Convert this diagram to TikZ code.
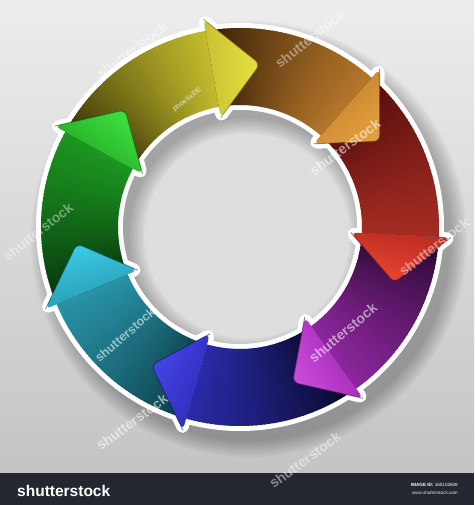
\documentclass[tikz,border=0pt]{standalone}
\usepackage{fontspec}
\setmainfont{Liberation Sans}
\definecolor{bgtop}{HTML}{EDEDED}
\definecolor{bgbot}{HTML}{C4C4C4}
\definecolor{barcol}{HTML}{24272F}
\definecolor{holecol}{HTML}{DDDDDD}
% yellow
\definecolor{s0}{HTML}{2A2404}\definecolor{e0}{HTML}{C2BA2C}\definecolor{ha0}{HTML}{C8C030}\definecolor{hb0}{HTML}{E8E242}
% brown
\definecolor{s1}{HTML}{281402}\definecolor{e1}{HTML}{B4762A}\definecolor{ha1}{HTML}{C07C2C}\definecolor{hb1}{HTML}{E29E3C}
% red
\definecolor{s2}{HTML}{480808}\definecolor{e2}{HTML}{A42C22}\definecolor{ha2}{HTML}{B82C20}\definecolor{hb2}{HTML}{EE4634}
% purple
\definecolor{s3}{HTML}{1A0420}\definecolor{e3}{HTML}{8C269C}\definecolor{ha3}{HTML}{9A24AE}\definecolor{hb3}{HTML}{CA4ADA}
% blue
\definecolor{s4}{HTML}{030314}\definecolor{e4}{HTML}{2A2AA8}\definecolor{ha4}{HTML}{2A2AB8}\definecolor{hb4}{HTML}{4646E6}
% cyan
\definecolor{s5}{HTML}{08303A}\definecolor{e5}{HTML}{2892A6}\definecolor{ha5}{HTML}{2696AE}\definecolor{hb5}{HTML}{3CCCE6}
% green
\definecolor{s6}{HTML}{04280A}\definecolor{e6}{HTML}{1C9620}\definecolor{ha6}{HTML}{1EA222}\definecolor{hb6}{HTML}{3EDE3E}
\tikzset{
  wm/.style={text=white, opacity=0.55, font=\bfseries\fontsize{14}{14}\selectfont, inner sep=0pt},
  wmsmall/.style={wm, font=\bfseries\fontsize{7}{7}\selectfont},
  headwhite/.style={fill=white, draw=white, line width=10pt, line join=round, rounded corners=4pt},
}
\begin{document}
\begin{tikzpicture}[x=1pt,y=1pt]
\useasboundingbox (0,0) rectangle (474,505);
% background
\shade[top color=bgtop, bottom color=bgbot] (0,32) rectangle (474,505);
\fill[barcol] (0,0) rectangle (474,32);
\node[anchor=west, text=white, font=\bfseries\fontsize{15.5}{15.5}\selectfont, inner sep=0pt] (logo) at (17,14) {shutterstock};
\node[anchor=east, text=white, font=\fontsize{4.6}{5}\selectfont, inner sep=0pt] (imgid) at (458,20) {\textbf{IMAGE ID:} 165102608};
\node[anchor=east, text=white!80!gray, font=\fontsize{4.6}{5}\selectfont, inner sep=0pt] (url) at (458,12) {www.shutterstock.com};

\begin{scope}[shift={(240,278)}]
  % drop shadow
  \foreach \k in {0,...,8} {
    \fill[black, opacity=0.03] (9,-12) circle[radius={(218-2*\k)*1pt}];
  }
  % white base
  \fill[white] (0,0) circle[radius=204pt];
  % inner hole
  \fill[holecol] (0,0) circle[radius=117pt];
  \begin{scope}
    \clip (0,0) circle[radius=117pt];
    \foreach \k in {0,...,6} {
      \fill[black, opacity=0.04, even odd rule] (0,0) circle[radius=120pt] (7,-9) circle[radius={(118-2.5*\k)*1pt}];
    }
  \end{scope}
  % white outlines of heads
  \foreach \k in {0,...,6} {
    \pgfmathsetmacro\b{100-51.4286*\k}
    \pgfmathsetmacro\t{\b-17}
    \path[headwhite] (\b:111pt) -- (\t:163pt) -- (\b:211pt) -- cycle;
  }
  % bodies with gradient along the arc
  \foreach \k in {0,...,6} {
    \pgfmathsetmacro\b{100-51.4286*\k}
    \pgfmathsetmacro\s{\b+51.4286}
    \foreach \i in {0,...,39} {
      \pgfmathsetmacro\aa{\s-\i*1.285715}
      \pgfmathsetmacro\ab{\aa-1.285715-(\i<39)*0.5}
      \pgfmathtruncatemacro\p{100*(\i/39)^0.7}
      \fill[e\k!\p!s\k] (\aa:122pt) arc[start angle=\aa, end angle=\ab, radius=122pt]
        -- (\ab:199pt) arc[start angle=\ab, end angle=\aa, radius=199pt] -- cycle;
    }
  }
  % heads
  \foreach \k in {0,...,6} {
    \pgfmathsetmacro\b{100-51.4286*\k}
    \pgfmathsetmacro\t{\b-17}
    \pgfmathsetmacro\sa{\b-188.5}
    \shade[top color=hb\k, bottom color=ha\k, shading angle=\sa, rounded corners=6pt]
      (\b:111pt) -- (\t:164pt) -- (\b:211pt) -- cycle;
    \draw[ha\k!55!black, opacity=0.6, line width=0.9pt, rounded corners=6pt]
      (\b:111pt) -- (\t:164pt) -- (\b:211pt);
  }
\end{scope}

% watermark texts
\node[wm, rotate=37] (w1) at (345,358) {shutterstock};
\node[wm, rotate=40] (w2) at (343,172) {shutterstock};
\node[wm, rotate=41, font=\bfseries\fontsize{12.5}{12.5}\selectfont] (w3) at (125,170) {shutterstock};
\node[wm, rotate=36] (w4) at (132,83) {shutterstock};
\node[wm, rotate=36, opacity=0.45] (w5) at (132,455) {shutterstock};
\node[wmsmall, rotate=38] (w6) at (187,405) {phoelixDE};
\node[wm, rotate=38, opacity=0.45] (w7) at (434,258) {shutterstock};
\node[wm, rotate=36, opacity=0.45] (w8) at (305,45) {shutterstock};
\node[wm, rotate=38, opacity=0.4] (w9) at (38,273) {shutterstock};
\node[wm, rotate=38, opacity=0.4] (w10) at (310,466) {shutterstock};
\end{tikzpicture}
\end{document}
